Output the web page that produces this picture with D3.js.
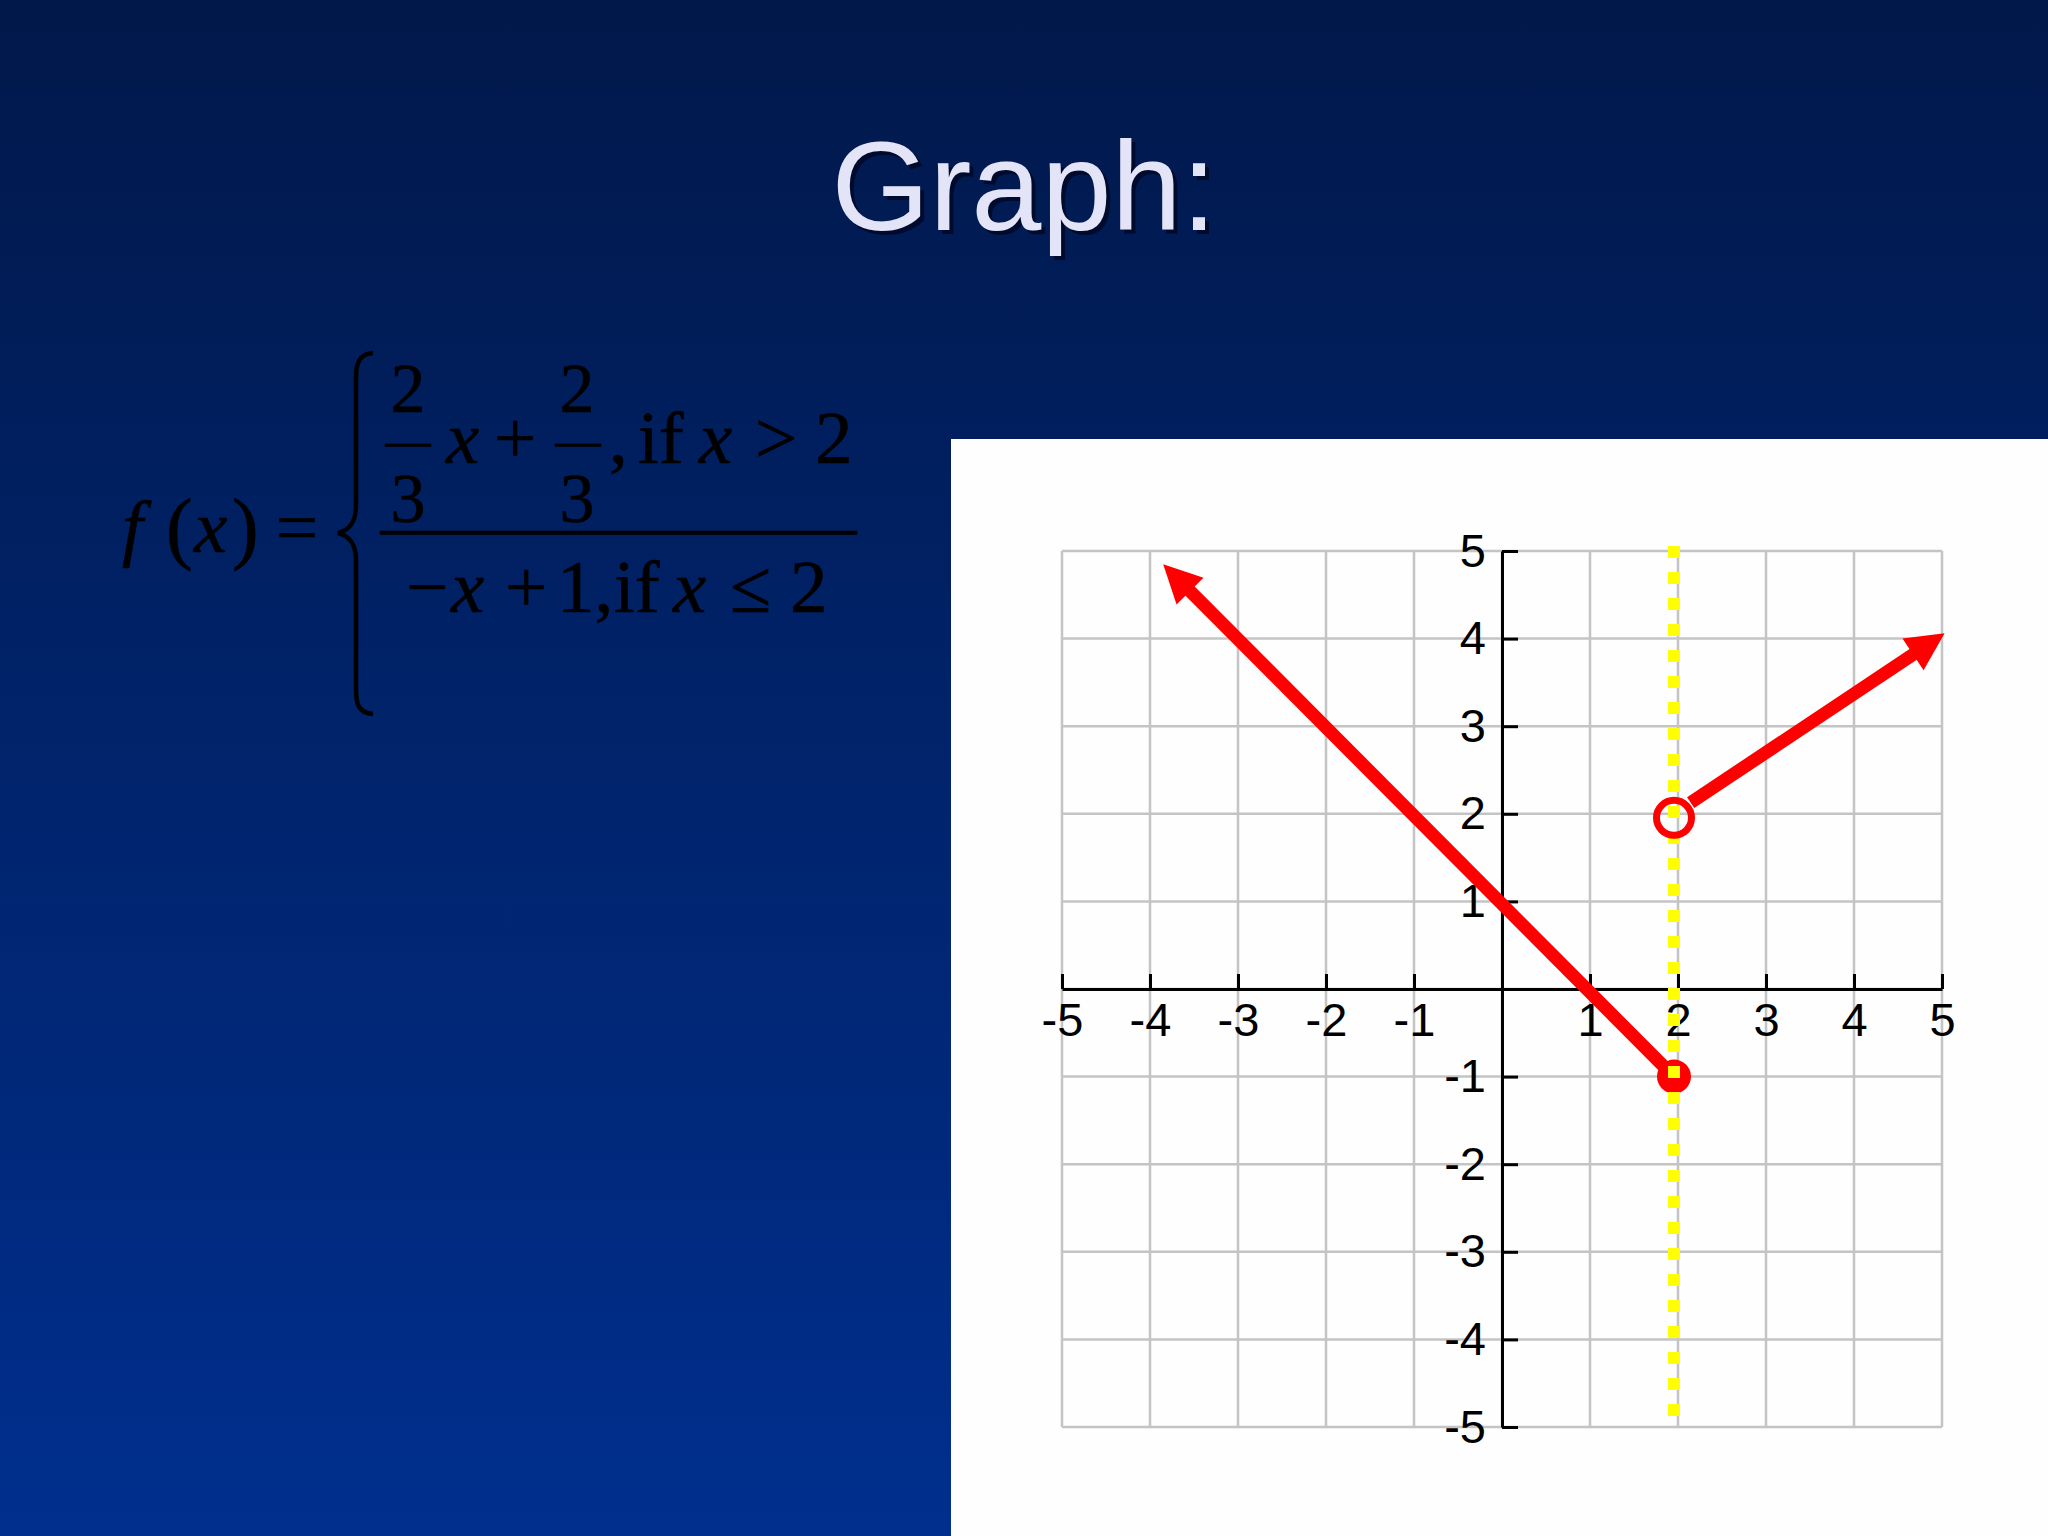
<!DOCTYPE html>
<html>
<head>
<meta charset="utf-8">
<script src="https://cdn.jsdelivr.net/npm/d3@7"></script>
<style>
  html, body { margin: 0; padding: 0; background: #001848; }
  svg { display: block; }
</style>
</head>
<body>
<svg id="slide" width="2048" height="1536"></svg>
<script>
// values
var gridValues = [-5, -4, -3, -2, -1, 0, 1, 2, 3, 4, 5]
  , tickValues = [-5, -4, -3, -2, -1, 1, 2, 3, 4, 5]
  , leftPiece = [[2, -1], [-3.85, 4.85]]     // -x+1, x <= 2, arrow toward upper left
  , rightPiece = [[2, 2], [5.03, 4.06]]      // 2/3 x + 2/3, x > 2, arrow toward upper right
  , closedPoints = [[2, -1]]
  , openPoints = [[2, 2]]
  , boundaryX = [2];

var W = 2048, H = 1536;
var svg = d3.select("#slide");

var defs = svg.append("defs");
var grad = defs.append("linearGradient")
    .attr("id", "bg")
    .attr("x1", 0).attr("y1", 0)
    .attr("x2", 0).attr("y2", 1);
grad.append("stop").attr("offset", "0%").attr("stop-color", "#01184a");
grad.append("stop").attr("offset", "100%").attr("stop-color", "#002f8e");

svg.append("rect")
    .attr("width", W).attr("height", H)
    .attr("fill", "url(#bg)");

// title with drop shadow
var title = svg.append("g")
    .style("font-family", "'Liberation Sans', Arial, sans-serif")
    .style("font-size", "126px")
    .attr("text-anchor", "middle");
title.append("text").attr("x", 1028).attr("y", 234).attr("fill", "#000a2c").text("Graph:");
title.append("text").attr("x", 1024).attr("y", 230).attr("fill", "#e4e4f8").text("Graph:");

// equation, black serif
var eq = svg.append("g")
    .attr("fill", "#000")
    .attr("stroke", "#000")
    .attr("stroke-width", 0.6)
    .style("font-family", "'Liberation Serif', 'Times New Roman', serif")
    .style("font-size", "75px");

function put(txt, x, y, italic, anchor, size) {
  var t = eq.append("text").attr("x", x).attr("y", y).text(txt);
  if (italic) t.style("font-style", "italic");
  if (anchor) t.attr("text-anchor", anchor);
  if (size) t.style("font-size", size + "px");
  return t;
}

put("f", 122, 552, true);
put("(", 166, 554).style("font-size", "80px");
put("x", 194, 552, true);
put(")", 232, 554).style("font-size", "80px");
put("=", 276, 552);

// brace
eq.append("path")
    .attr("d", "M373,353 C360,354 356,362 356,378 L356,505 C356,522 350,530 338,533 C350,536 356,544 356,561 L356,690 C356,706 360,713 373,714")
    .attr("fill", "none")
    .attr("stroke", "#000")
    .attr("stroke-width", 4.5);

// first row
put("2", 408, 412, false, "middle", 70);
eq.append("rect").attr("x", 385).attr("y", 444).attr("width", 46).attr("height", 2.5);
put("3", 408, 522, false, "middle", 70);
put("x", 446, 463, true);
put("+", 494, 463);
put("2", 577, 412, false, "middle", 70);
eq.append("rect").attr("x", 555).attr("y", 444).attr("width", 46).attr("height", 2.5);
put("3", 577, 522, false, "middle", 70);
put(",", 609, 463);
put("if", 638, 463);
put("x", 699, 463, true);
put(">", 755, 463);
put("2", 815, 463);

// long rule between rows
eq.append("rect").attr("x", 380).attr("y", 531).attr("width", 477).attr("height", 3.5);

// second row
put("\u2212", 406, 612);
put("x", 451, 612, true);
put("+", 505, 612);
put("1,", 557, 612);
put("if", 614, 612);
put("x", 673, 612, true);
put("\u2264", 730, 612);
put("2", 790, 612);

// white panel
svg.append("rect")
    .attr("x", 951).attr("y", 439)
    .attr("width", W - 951).attr("height", H - 439)
    .attr("fill", "#fdfefd");

// plot
var x = d3.scaleLinear().domain([-5, 5]).range([1062, 1942]);
var y = d3.scaleLinear().domain([-5, 5]).range([1427, 551]);

// the slide's markers at x=2 sit a few pixels off the gridline
var nudgeX = -4;

var plot = svg.append("g");

plot.append("g").selectAll("line.gx")
    .data(gridValues)
  .join("line")
    .attr("x1", d => x(d)).attr("x2", d => x(d))
    .attr("y1", y(-5)).attr("y2", y(5))
    .attr("stroke", "#c4c4c4").attr("stroke-width", 2.5);

plot.append("g").selectAll("line.gy")
    .data(gridValues)
  .join("line")
    .attr("y1", d => y(d)).attr("y2", d => y(d))
    .attr("x1", x(-5)).attr("x2", x(5))
    .attr("stroke", "#c4c4c4").attr("stroke-width", 2.5);

var tickFont = "'Liberation Sans', Arial, sans-serif";

var xAxis = plot.append("g")
    .attr("transform", "translate(0," + y(0) + ")")
    .call(d3.axisBottom(x)
      .tickValues(tickValues)
      .tickSizeInner(-15)
      .tickSizeOuter(0)
      .tickPadding(14)
      .tickFormat(d3.format("d")));

var yAxis = plot.append("g")
    .attr("transform", "translate(" + x(0) + ",0)")
    .call(d3.axisLeft(y)
      .tickValues(tickValues)
      .tickSizeInner(-16)
      .tickSizeOuter(0)
      .tickPadding(16)
      .tickFormat(d3.format("d")));

[xAxis, yAxis].forEach(function(ax) {
  ax.selectAll(".domain").attr("stroke", "#000").attr("stroke-width", 3);
  ax.selectAll(".tick line").attr("stroke", "#000").attr("stroke-width", 3);
  ax.selectAll(".tick text")
      .attr("fill", "#000")
      .style("font-family", tickFont)
      .style("font-size", "47px")
      .text(function(d) { return d < 0 ? "-" + Math.abs(d) : d; });
});

// red pieces with arrowheads
var headLen = 38, headWid = 38, lineW = 13, red = "#ff0000";

function drawPiece(piece, startGap) {
  var p0 = [x(piece[0][0]) + nudgeX, y(piece[0][1])]
    , p1 = [x(piece[1][0]), y(piece[1][1])]
    , dx = p1[0] - p0[0], dy = p1[1] - p0[1]
    , len = Math.sqrt(dx * dx + dy * dy)
    , ux = dx / len, uy = dy / len
    , nx = -uy, ny = ux
    , bx = p1[0] - ux * headLen, by = p1[1] - uy * headLen;

  plot.append("line")
      .attr("x1", p0[0] + ux * startGap).attr("y1", p0[1] + uy * startGap)
      .attr("x2", bx + ux * 2).attr("y2", by + uy * 2)
      .attr("stroke", red).attr("stroke-width", lineW);

  plot.append("path")
      .attr("d", d3.line()([
        p1,
        [bx + nx * headWid / 2, by + ny * headWid / 2],
        [bx - nx * headWid / 2, by - ny * headWid / 2]
      ]) + "Z")
      .attr("fill", red);
}

drawPiece(leftPiece, 0);
drawPiece(rightPiece, 20);

plot.selectAll("circle.closed")
    .data(closedPoints)
  .join("circle")
    .attr("cx", d => x(d[0]) + nudgeX).attr("cy", d => y(d[1]))
    .attr("r", 17)
    .attr("fill", red);

// dotted boundary line
plot.selectAll("line.boundary")
    .data(boundaryX)
  .join("line")
    .attr("x1", d => x(d) + nudgeX).attr("x2", d => x(d) + nudgeX)
    .attr("y1", y(5) - 5).attr("y2", y(-5))
    .attr("stroke", "#ffff00")
    .attr("stroke-width", 12)
    .attr("stroke-dasharray", "12 14");

plot.selectAll("circle.open")
    .data(openPoints)
  .join("circle")
    .attr("cx", d => x(d[0]) + nudgeX).attr("cy", d => y(d[1]) + 4)
    .attr("r", 17.5)
    .attr("fill", "none")
    .attr("stroke", red)
    .attr("stroke-width", 7);
</script>
</body>
</html>
